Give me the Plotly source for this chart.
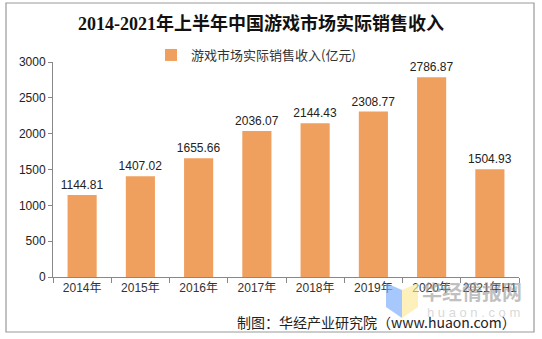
import plotly.graph_objects as go

categories = ["2014年", "2015年", "2016年", "2017年", "2018年", "2019年", "2020年", "2021年H1"]
values = [1144.81, 1407.02, 1655.66, 2036.07, 2144.43, 2308.77, 2786.87, 1504.93]
series_name = "游戏市场实际销售收入(亿元)"
title_text = "2014-2021年上半年中国游戏市场实际销售收入"
source_text = "制图：华经产业研究院（www.huaon.com）"

W, H = 542, 339
L, R, T, B = 53, 23, 62, 62
pw, ph = W - L - R, H - T - B

def px(x):
    return (x - L) / pw

def py(y):
    return (H - B - y) / ph

font_fam = "Liberation Sans, Arial, Noto Sans CJK SC"

fig = go.Figure()
fig.add_trace(go.Bar(
    x=categories, y=values, name=series_name,
    marker=dict(color="#F0A05E", line=dict(width=0)),
    text=[f"{v:.2f}" for v in values], textposition="outside",
    textfont=dict(size=12, color="#222", family=font_fam),
    constraintext="none",
    cliponaxis=False, width=0.5,
))

fig.update_layout(
    width=W, height=H,
    margin=dict(l=L, r=R, t=T, b=B),
    paper_bgcolor="white", plot_bgcolor="white",
    title=dict(text="<b>" + title_text + "</b>", xref="container", x=261 / W, xanchor="center",
               y=1 - 24 / H, yanchor="middle",
               font=dict(size=18, color="#111", family="Liberation Serif, Noto Sans CJK SC")),
    showlegend=True,
    legend=dict(orientation="h", x=px(256), xanchor="center", y=py(55), yanchor="middle",
                font=dict(size=13, color="#333", family="Noto Sans CJK SC"), bgcolor="rgba(0,0,0,0)",
                itemwidth=30),
    xaxis=dict(type="category", showline=True, linecolor="#888", linewidth=1,
               ticks="outside", tickson="boundaries", ticklen=5, tickcolor="#888", tickangle=0,
               tickfont=dict(size=12, color="#333", family=font_fam), showgrid=False),
    yaxis=dict(range=[0, 3000], tickvals=[0, 500, 1000, 1500, 2000, 2500, 3000],
               showline=True, linecolor="#888", linewidth=1, ticks="outside", ticklen=4,
               tickcolor="#888", showgrid=False, zeroline=False,
               tickfont=dict(size=12, color="#222", family=font_fam)),
    shapes=[
        dict(type="rect", xref="paper", yref="paper", x0=px(6), x1=px(534), y0=py(332), y1=py(3),
             line=dict(color="#999", width=1.2), fillcolor="rgba(0,0,0,0)", layer="below"),
        dict(type="path", xref="paper", yref="paper",
             path=f"M {px(386)} {py(283)} L {px(402)} {py(290)} L {px(402)} {py(318)} L {px(386)} {py(307)} Z",
             fillcolor="rgba(120,170,250,0.65)", line=dict(width=0), layer="above"),
        dict(type="path", xref="paper", yref="paper",
             path=f"M {px(402)} {py(290)} L {px(418)} {py(283)} L {px(418)} {py(307)} L {px(402)} {py(318)} Z",
             fillcolor="rgba(252,232,150,0.65)", line=dict(width=0), layer="above"),
    ],
    annotations=[
        dict(text="<b>华经情报网</b>", xref="paper", yref="paper", x=px(472), y=py(291),
             xanchor="center", yanchor="middle", showarrow=False,
             font=dict(size=20, color="rgba(150,150,150,0.6)", family="Noto Sans CJK SC")),
        dict(text="h u a o n . c o m", xref="paper", yref="paper", x=px(473), y=py(312),
             xanchor="center", yanchor="middle", showarrow=False,
             font=dict(size=13, color="rgba(190,190,190,0.6)", family=font_fam)),
        dict(text=source_text, xref="paper", yref="paper", x=px(518), y=py(322),
             xanchor="right", yanchor="middle", showarrow=False,
             font=dict(size=14, color="#222", family="Noto Sans CJK SC")),
    ],
)

fig.write_html("out.html")
